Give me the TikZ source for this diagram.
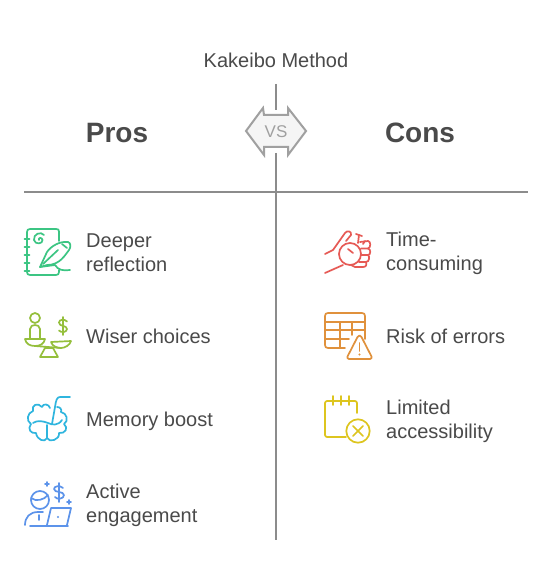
\documentclass[tikz,border=0pt]{standalone}
\usepackage{fontspec}
\setmainfont{Liberation Sans}
\definecolor{txt}{HTML}{4A4A4A}
\definecolor{rule}{HTML}{8C8C8C}
\definecolor{vsc}{HTML}{A0A0A0}
\definecolor{cgreen}{HTML}{3CC583}
\definecolor{clime}{HTML}{95BF3C}
\definecolor{cblue}{HTML}{2FB5DE}
\definecolor{cperi}{HTML}{5C93EA}
\definecolor{cred}{HTML}{E65A55}
\definecolor{corange}{HTML}{E0913C}
\definecolor{cyel}{HTML}{DDC51F}
\tikzset{
  lab/.style={font=\fontsize{20}{24}\selectfont,text=txt,anchor=west,align=left,inner sep=0pt},
  head/.style={font=\fontsize{28}{34}\selectfont\bfseries,text=txt,inner sep=0pt},
  ico/.style={line width=1.7pt,line cap=round,line join=round},
  ruleline/.style={draw=rule,line width=1.8pt}
}
\begin{document}
\begin{tikzpicture}[x=1pt,y=-1pt]
\useasboundingbox (0,0) rectangle (553,588);
\fill[white] (0,0) rectangle (553,588);
\node[font=\fontsize{20}{24}\selectfont,text=txt,inner sep=0pt] (title) at (276,60) {Kakeibo Method};
\coordinate (vtop) at (276,84);
\coordinate (vmid) at (276,110);
\coordinate (vmidb) at (276,153);
\coordinate (vbot) at (276,540);
\coordinate (hl) at (24,192);
\coordinate (hr) at (528,192);
\draw[ruleline] (vtop) -- (vmid);
\draw[ruleline] (vmidb) -- (vbot);
\draw[ruleline] (hl) -- (hr);
% VS
\draw[draw=vsc,fill=black!4,line width=2pt,line join=miter] (246,131) -- (263,108) -- (264,115) -- (288,115) -- (288,108) -- (306,131) -- (288,155) -- (288,147) -- (264,147) -- (264,155) -- cycle;
\node[font=\fontsize{17}{20}\selectfont,text=vsc,inner sep=0pt] (vs) at (276,132) {VS};
\node[head] (pros) at (117,133) {Pros};
\node[head] (cons) at (420,133) {Cons};
% labels
\node[lab] (a1) at (86,253) {Deeper\\reflection};
\node[lab] (a2) at (86,336) {Wiser choices};
\node[lab] (a3) at (86,421) {Memory boost};
\node[lab] (a4) at (86,505) {Active\\engagement};
\node[lab] (b1) at (386,253) {Time-\\consuming};
\node[lab] (b2) at (386,336) {Risk of errors};
\node[lab] (b3) at (386,421) {Limited\\accessibility};
% notebook
\begin{scope}[ico,draw=cgreen]
\draw (59,241) -- (59,231.5) .. controls (59,229.5) and (58,229) .. (56,229) -- (30,229) .. controls (28,229) and (27,230) .. (27,232) -- (27,272) .. controls (27,274) and (28,275) .. (30,275) -- (56,275) .. controls (58,275) and (59,274) .. (59,272) -- (59,270);
\foreach \y in {239,247,255,263,271} \draw (24.5,\y) -- (29.5,\y);
\draw (39,240) .. controls (38,237.5) and (42,237) .. (42.5,240) .. controls (43,244) and (35,245) .. (34,240) .. controls (33,234) and (41,231) .. (44,235);
\draw (40,267) -- (47,252) .. controls (51,246) and (60,241) .. (68,242) .. controls (71,243) and (71,247) .. (69,250) .. controls (65,255) and (60,265) .. (47,265) -- (40,267);
\draw (43,264) -- (58,250);
\draw (62,244) -- (67,248);
\draw (40,267) -- (55,265) .. controls (58,270) and (63,271) .. (70,270);
\end{scope}
% scales
\begin{scope}[ico,draw=clime]
\draw (35,318) circle (5);
\draw (30,338) -- (30,329) .. controls (30,326) and (33,325) .. (35,325) .. controls (37,325) and (40,326) .. (40,329) -- (40,338);
\draw (25,339) -- (45,339) .. controls (44,344) and (40,346) .. (35,346) .. controls (30,346) and (26,344) .. (25,339) -- cycle;
\draw (51,342) -- (71,341) .. controls (70,345) and (65,348) .. (61,348) .. controls (57,348) and (52,346) .. (51,342) -- cycle;
\draw (35,346) -- (61,348) ;
\draw (45,348) -- (53,348) -- (58,357) -- (40,357) -- cycle;
\draw (63,317) -- (63,335);
\draw (59,330.5) .. controls (61,333) and (67,332.5) .. (67,329) .. controls (67,325) and (59,327) .. (59,322.5) .. controls (59,319) and (65,319) .. (67,321.5);
\end{scope}
% brain
\begin{scope}[ico,draw=cblue]
\draw (70,397) -- (60,397) .. controls (57,397) and (56,400) .. (55,407) -- (52,424);
\draw (50,408) .. controls (49,404) and (43,403) .. (42,407) .. controls (38,402) and (31,405) .. (33,411) .. controls (27,413) and (26,421) .. (31,424) .. controls (27,429) and (31,434) .. (36,433) .. controls (37,440) and (45,443) .. (47,438) -- (47,425);
\draw (47,438) .. controls (49,443) and (60,440) .. (59,433) .. controls (65,434) and (69,428) .. (64,424) .. controls (69,421) and (67,413) .. (61,412) .. controls (62,409) and (60,407) .. (57,407);
\draw (33,423) .. controls (37,420) and (43,421) .. (48,423) .. controls (52,425) and (58,426) .. (62,420);
\end{scope}
% person laptop
\begin{scope}[ico,draw=cperi]
\draw (40,500) circle (9);
\draw (31,498) .. controls (36,502) and (44,500) .. (48,495);
\draw (25,525) .. controls (25,517) and (30,512) .. (38,512) -- (43,512);
\draw (39,515) -- (39,520);
\draw (30,526) -- (68,526);
\draw (47,525) -- (51,508) -- (71,508) -- (67,525);
\fill[cperi,draw=none] (58,517) circle (1.2);
\draw (47,482) -- (47,486) (45,484) -- (49,484);
\draw (69,500) -- (69,504) (67,502) -- (71,502);
\draw (59,483) -- (59,502);
\draw (55,497) .. controls (57,500) and (64,499) .. (64,495) .. controls (64,491) and (54,493) .. (54,489) .. controls (54,486) and (60,485) .. (63,488);
\end{scope}
% hand stopwatch
\begin{scope}[ico,draw=cred]
\draw (325,254) -- (333,250) -- (345,233) .. controls (347,230) and (352,231) .. (351,235) -- (346,241);
\draw (325,273) -- (343,265);
\draw (358,243) -- (359,235);
\draw (356,234) -- (362,236);
\draw (363,244) -- (365,241);
\draw (360,242) -- (368,241) .. controls (371,241) and (371,248) .. (368,248.5) -- (361,248.5);
\draw (368,248.5) .. controls (371,249) and (371,255) .. (368,255) -- (360,255);
\draw (368,255) .. controls (370,256) and (369.5,262) .. (366,262) -- (359,262);
\draw (366,262) .. controls (367,265) and (366,267) .. (363,267) -- (355,267) -- (351,265);
\draw[fill=white] (350,254) circle (11);
\draw (348,249) -- (353,253);
\end{scope}
% table warning
\begin{scope}[ico,draw=corange]
\draw (345,348) -- (328,348) .. controls (326,348) and (325,347) .. (325,345) -- (325,316) .. controls (325,314) and (326,313) .. (328,313) -- (362,313) .. controls (364,313) and (365,314) .. (365,316) -- (365,339);
\draw (325,322) -- (365,322);
\draw (325,330) -- (365,330);
\draw (325,339) -- (349,339);
\draw (340,322) -- (340,347);
\draw (352,322) -- (352,335);
\draw (359.5,359) -- (349,359) .. controls (347.5,359) and (347,357.5) .. (347.5,356.5) -- (357.5,337) .. controls (358.5,335) and (360.5,335) .. (361.5,337) -- (371.5,356.5) .. controls (372,357.5) and (371.5,359) .. (370,359) -- (359.5,359);
\draw (359.5,343) -- (359.5,351);
\fill[corange,draw=none] (359.5,354.5) circle (1.2);
\end{scope}
% calendar x
\begin{scope}[ico,draw=cyel]
\draw (346,437) -- (327,437) .. controls (326,437) and (325,436) .. (325,435) -- (325,403) .. controls (325,402) and (326,401) .. (327,401) -- (355,401) .. controls (356,401) and (357,402) .. (357,403) -- (357,413);
\foreach \x in {333,341,349} \draw (\x,396) -- (\x,405);
\draw (358,431) circle (11.7);
\draw (353,426) -- (363,436) (363,426) -- (353,436);
\end{scope}
\end{tikzpicture}
\end{document}
